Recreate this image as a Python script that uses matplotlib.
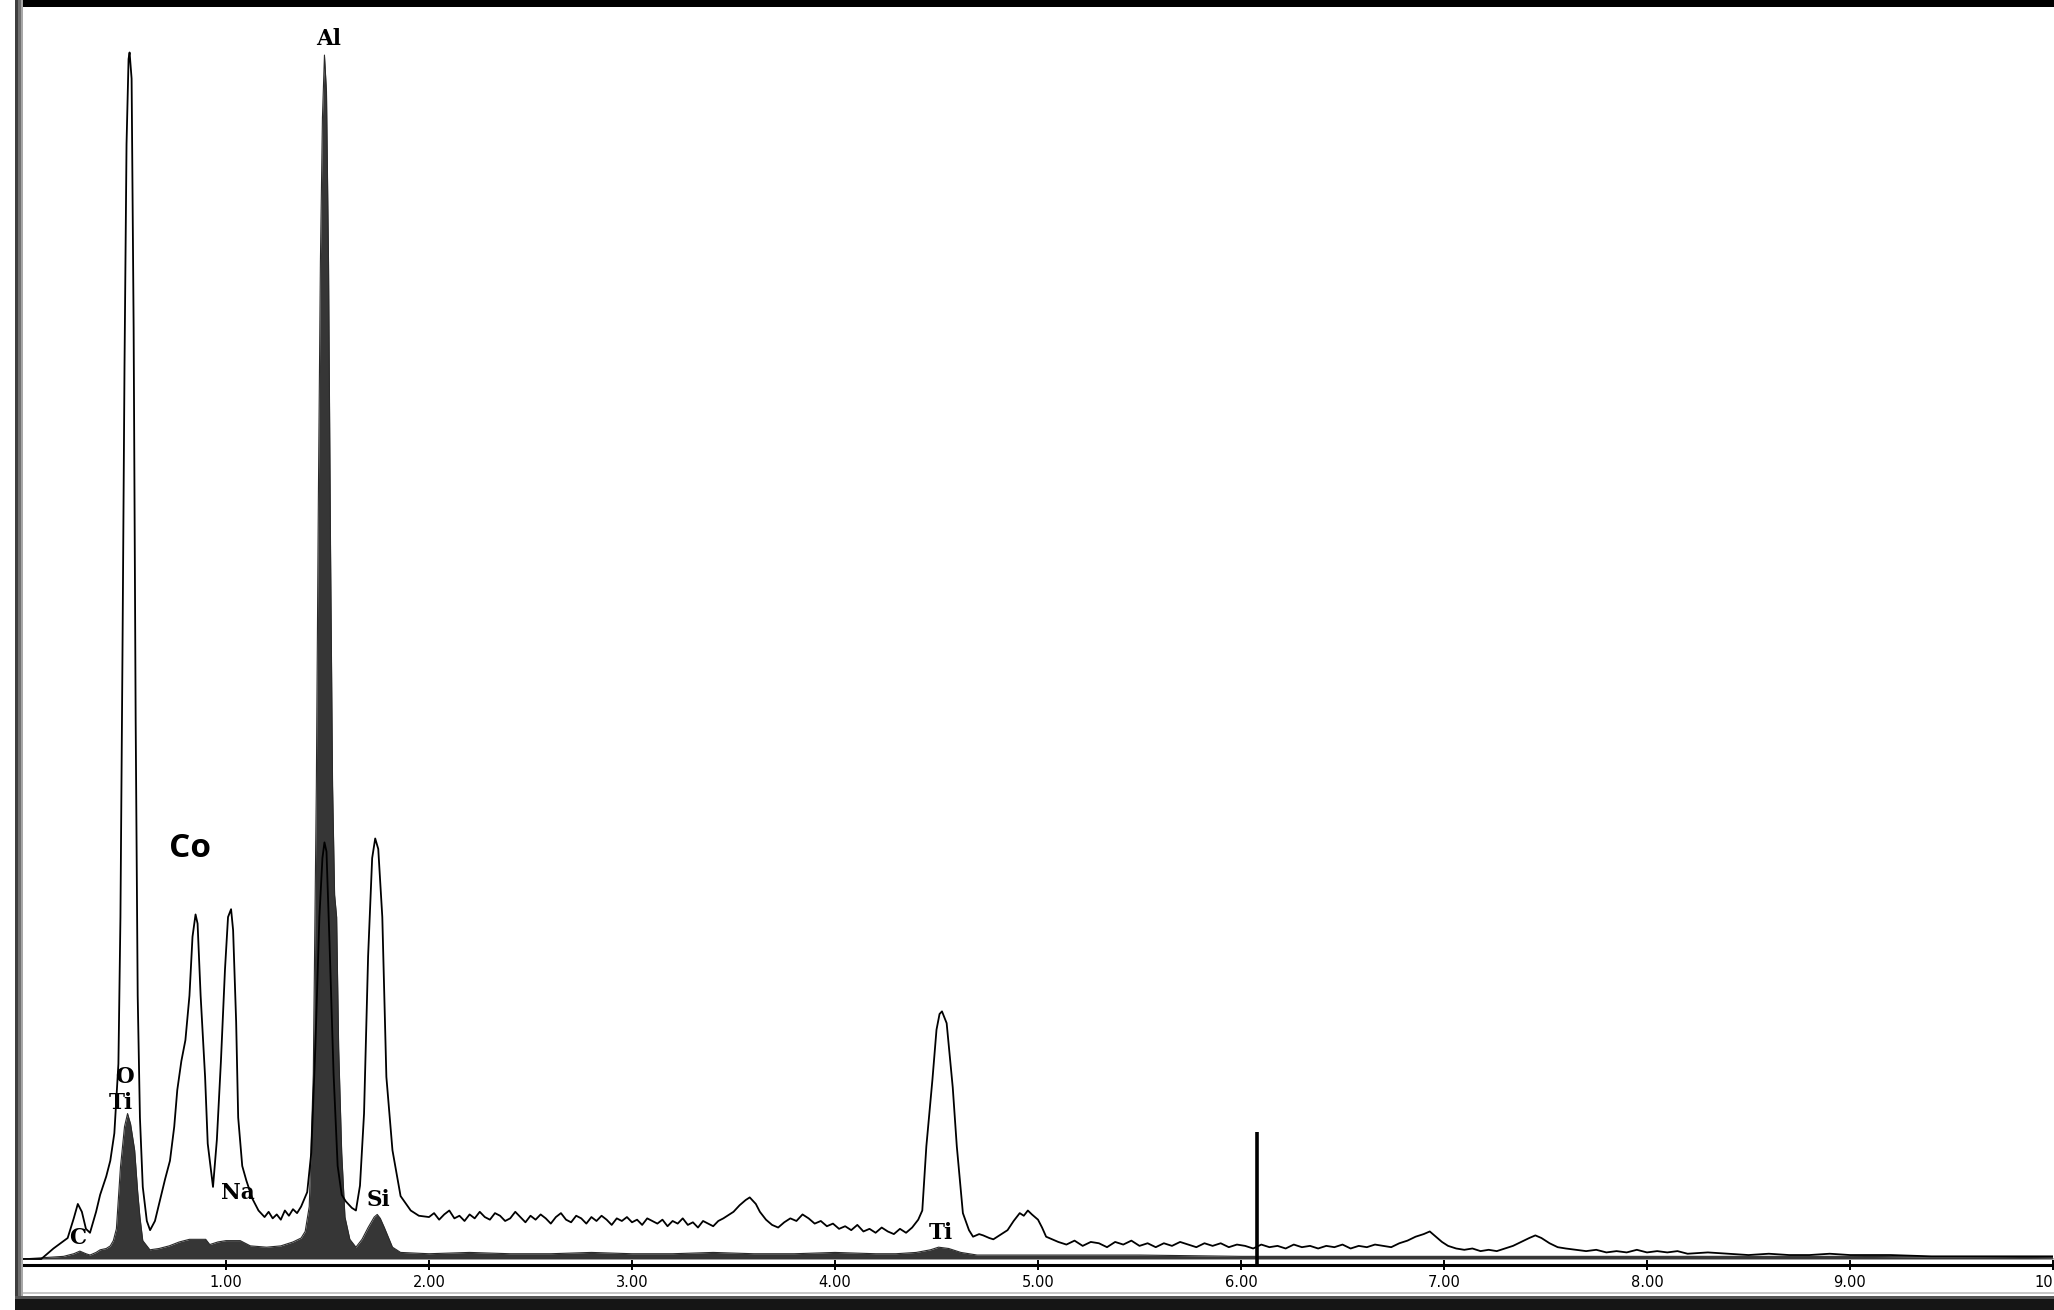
import matplotlib
matplotlib.use("Agg")
import matplotlib.pyplot as plt
from matplotlib.patches import Rectangle

# Espectro EDS: (energía keV, cuentas)
# Traza 1 (línea)
line_points = [
    (0.00, 0), (0.09, 0), (0.15, 8), (0.22, 16), (0.25, 31), (0.27, 42), (0.29, 36), (0.31, 23),
    (0.33, 20), (0.36, 36), (0.38, 49), (0.41, 63), (0.43, 75), (0.45, 96), (0.47, 149),
    (0.48, 261), (0.49, 461), (0.50, 681), (0.51, 851), (0.52, 916), (0.525, 921), (0.535, 901),
    (0.545, 711), (0.555, 411), (0.565, 201), (0.576, 108), (0.59, 55), (0.61, 29), (0.626, 22),
    (0.65, 29), (0.675, 45), (0.70, 61), (0.724, 75), (0.745, 101), (0.76, 129), (0.78, 151),
    (0.80, 167), (0.82, 201), (0.835, 246), (0.85, 263), (0.86, 256), (0.875, 201), (0.897, 139),
    (0.91, 88), (0.936, 55), (0.955, 91), (0.975, 151), (0.995, 221), (1.01, 261), (1.025, 267),
    (1.035, 251), (1.05, 181), (1.06, 108), (1.08, 71), (1.10, 60), (1.13, 46), (1.16, 37),
    (1.19, 32), (1.21, 36), (1.23, 31), (1.25, 34), (1.27, 30), (1.29, 37), (1.31, 33), (1.33, 38),
    (1.35, 35), (1.37, 40), (1.40, 51), (1.42, 81), (1.44, 161), (1.46, 261), (1.475, 306),
    (1.485, 318), (1.495, 311), (1.51, 241), (1.53, 141), (1.55, 71), (1.57, 49), (1.59, 44),
    (1.62, 39), (1.64, 37), (1.66, 56), (1.68, 111), (1.70, 231), (1.72, 306), (1.735, 321),
    (1.75, 313), (1.77, 261), (1.79, 139), (1.82, 83), (1.86, 48), (1.91, 37), (1.95, 33),
    (2.000, 32), (2.025, 35), (2.050, 30), (2.075, 34), (2.100, 37), (2.125, 31), (2.150, 33),
    (2.175, 29), (2.200, 34), (2.225, 31), (2.250, 36), (2.275, 32), (2.300, 30), (2.325, 35),
    (2.350, 33), (2.375, 29), (2.400, 31), (2.425, 36), (2.450, 32), (2.475, 28), (2.500, 33),
    (2.525, 30), (2.550, 34), (2.575, 31), (2.600, 27), (2.625, 32), (2.650, 35), (2.675, 30),
    (2.700, 28), (2.725, 33), (2.750, 31), (2.775, 27), (2.800, 32), (2.825, 29), (2.850, 33),
    (2.875, 30), (2.900, 26), (2.925, 31), (2.950, 29), (2.975, 32), (3.000, 28), (3.025, 30),
    (3.050, 26), (3.075, 31), (3.100, 29), (3.125, 27), (3.150, 30), (3.175, 25), (3.200, 29),
    (3.225, 27), (3.250, 31), (3.275, 26), (3.300, 28), (3.325, 24), (3.350, 29), (3.375, 27),
    (3.400, 25), (3.425, 29), (3.450, 31), (3.50, 36), (3.53, 41), (3.56, 45), (3.58, 47),
    (3.61, 42), (3.63, 36), (3.66, 30), (3.69, 26), (3.72, 24), (3.75, 28), (3.78, 31), (3.81, 29),
    (3.84, 34), (3.87, 31), (3.90, 27), (3.93, 29), (3.96, 25), (3.99, 27), (4.02, 23), (4.05, 25),
    (4.08, 22), (4.11, 26), (4.14, 21), (4.17, 23), (4.20, 20), (4.23, 24), (4.26, 21), (4.29, 19),
    (4.32, 23), (4.35, 20), (4.38, 24), (4.41, 30), (4.43, 37), (4.45, 86), (4.48, 137),
    (4.50, 175), (4.515, 187), (4.527, 189), (4.54, 184), (4.55, 180), (4.58, 131), (4.60, 86),
    (4.63, 35), (4.66, 22), (4.68, 17), (4.71, 19), (4.73, 18), (4.76, 16), (4.78, 15), (4.81, 18),
    (4.85, 22), (4.88, 29), (4.91, 35), (4.93, 33), (4.95, 37), (4.97, 34), (5.00, 30), (5.02, 24),
    (5.04, 17), (5.07, 15), (5.10, 13),
    (5.14, 11), (5.18, 14), (5.22, 10), (5.26, 13), (5.30, 12), (5.34, 9), (5.38, 13), (5.42, 11),
    (5.46, 14), (5.50, 10), (5.54, 12), (5.58, 9), (5.62, 12), (5.66, 10), (5.70, 13), (5.74, 11),
    (5.78, 9), (5.82, 12), (5.86, 10), (5.90, 12), (5.94, 9), (5.98, 11), (6.02, 10), (6.06, 8),
    (6.10, 11), (6.14, 9), (6.18, 10), (6.22, 8), (6.26, 11), (6.30, 9), (6.34, 10), (6.38, 8),
    (6.42, 10), (6.46, 9), (6.50, 11), (6.54, 8), (6.58, 10), (6.62, 9), (6.66, 11), (6.70, 10),
    (6.74, 9), (6.78, 12), (6.82, 14), (6.86, 17), (6.90, 19), (6.93, 21), (6.96, 17), (6.99, 13),
    (7.02, 10), (7.06, 8), (7.10, 7), (7.14, 8), (7.18, 6), (7.22, 7), (7.26, 6), (7.30, 8),
    (7.34, 10), (7.38, 13), (7.42, 16), (7.45, 18), (7.48, 16), (7.52, 12), (7.56, 9), (7.60, 8),
    (7.65, 7), (7.70, 6), (7.75, 7), (7.80, 5), (7.85, 6), (7.90, 5), (7.95, 7), (8.00, 5),
    (8.05, 6), (8.10, 5), (8.15, 6), (8.20, 4), (8.30, 5), (8.40, 4), (8.50, 3), (8.60, 4),
    (8.70, 3), (8.80, 3), (8.90, 4), (9.00, 3), (9.20, 3), (9.40, 2), (9.60, 2), (9.80, 2),
    (10.0, 2),
]

# Traza 2 (rellena)
fill_points = [
    (0.00, 0), (0.10, 1), (0.20, 2), (0.25, 4), (0.28, 6), (0.31, 4), (0.33, 3), (0.36, 5),
    (0.38, 7), (0.41, 8), (0.43, 10), (0.445, 14), (0.46, 23), (0.48, 70), (0.50, 101),
    (0.515, 111), (0.53, 103), (0.55, 83), (0.565, 51), (0.576, 32), (0.59, 14), (0.625, 7),
    (0.67, 8), (0.72, 10), (0.77, 13), (0.82, 15), (0.90, 15), (0.92, 11), (0.96, 13),
    (1.00, 14), (1.07, 14), (1.12, 10), (1.20, 9), (1.27, 10), (1.33, 13), (1.37, 16), (1.39, 21),
    (1.41, 40), (1.43, 141), (1.445, 361), (1.455, 581), (1.465, 761), (1.475, 871),
    (1.485, 919), (1.495, 891), (1.505, 761), (1.515, 541), (1.525, 361), (1.535, 278),
    (1.545, 261), (1.555, 161), (1.57, 81), (1.586, 32), (1.61, 15), (1.64, 9), (1.67, 15),
    (1.70, 24), (1.73, 32), (1.745, 34), (1.76, 31), (1.78, 24), (1.82, 9), (1.86, 5),
    (2.0, 4), (2.2, 5), (2.4, 4), (2.6, 4), (2.8, 5), (3.0, 4), (3.2, 4), (3.4, 5), (3.6, 4),
    (3.8, 4), (4.0, 5), (4.2, 4), (4.3, 4), (4.40, 5), (4.47, 7), (4.51, 9), (4.56, 8),
    (4.62, 5), (4.70, 3), (5.0, 3), (5.5, 3), (6.0, 2), (7.0, 2), (8.0, 2), (9.0, 2), (10.0, 1),
]

line_kev = [p[0] for p in line_points]
line_counts = [p[1] for p in line_points]
fill_kev = [p[0] for p in fill_points]
fill_counts = [p[1] for p in fill_points]

# Etiquetas de elementos (texto, keV, cuentas)
peak_labels = ["Al", "O", "Ti", "C", "Na", "Si", "Ti"]
peak_label_kev = [1.505, 0.50, 0.48, 0.27, 1.06, 1.75, 4.52]
peak_label_counts = [931, 139, 119, 16, 50, 45, 20]

co_label = "Co"
co_label_kev = 0.825
co_label_counts = 313

# Marcador vertical
marker_kev = 6.08
marker_counts = 97

tick_kev = [1, 2, 3, 4, 5, 6, 7, 8, 9, 10]
tick_text = ["1.00", "2.00", "3.00", "4.00", "5.00", "6.00", "7.00", "8.00", "9.00", "10"]

W, H = 2054, 1310


def add_px_rect(fig, x0, y0, x1, y1, color):
    # Rectángulo en píxeles de la figura (origen arriba a la izquierda)
    fig.add_artist(Rectangle((x0 / W, 1 - y1 / H), (x1 - x0) / W, (y1 - y0) / H,
                             transform=fig.transFigure, facecolor=color, edgecolor="none", zorder=5))


fig = plt.figure(figsize=(W / 100, H / 100), dpi=100)
fig.patch.set_facecolor("white")

ax_left, ax_right = 23, 2053
ax_top, ax_bottom = 7, 1265
ax = fig.add_axes([ax_left / W, 1 - ax_bottom / H, (ax_right - ax_left) / W, (ax_bottom - ax_top) / H])

ax.fill_between(fill_kev, 0, fill_counts, color="#363636", lw=0, zorder=2)
ax.plot(fill_kev, fill_counts, color="#2a2a2a", lw=0.8, zorder=2)
ax.plot(line_kev, line_counts, color="black", lw=1.3, zorder=3)
ax.vlines(marker_kev, -5, marker_counts, color="black", lw=2.6, zorder=4)

serif = ["DejaVu Serif"]
for txt, x, y in zip(peak_labels, peak_label_kev, peak_label_counts):
    ax.text(x, y, txt, family=serif, fontweight="bold", fontsize=15.5,
            ha="center", va="center", zorder=6)
ax.text(co_label_kev, co_label_counts, co_label, family=["Open Sans", "DejaVu Sans"],
        fontweight="bold", fontsize=24, ha="center", va="center", zorder=6)

ax.set_xlim(0, 10)
ax.set_ylim(-4.6, 955.7)
ax.set_xticks(tick_kev)
ax.set_xticklabels(tick_text, family=["Liberation Sans Narrow", "DejaVu Sans"], fontsize=10.5)
ax.get_xticklabels()[-1].set_horizontalalignment("right")
ax.tick_params(axis="x", direction="inout", length=7, width=1.4, pad=3.5, color="black")
ax.set_yticks([])
for s in ["top", "left", "right"]:
    ax.spines[s].set_visible(False)
ax.spines["bottom"].set_linewidth(2.2)
ax.spines["bottom"].set_color("black")
ax.set_facecolor("white")

# Marco de la ventana del programa
add_px_rect(fig, 15, 0, W, 7, "black")
add_px_rect(fig, 15, 0, 18, 1296, "#3e3e3e")
add_px_rect(fig, 18, 0, 21, 1296, "#707070")
add_px_rect(fig, 21, 0, 23, 1296, "#a8a8a8")
add_px_rect(fig, 23, 1292, W, 1294, "#c8c8c8")
add_px_rect(fig, 15, 1296, W, 1299, "#555555")
add_px_rect(fig, 15, 1299, W, H, "#151515")

plt.savefig("out.png", dpi=100)
